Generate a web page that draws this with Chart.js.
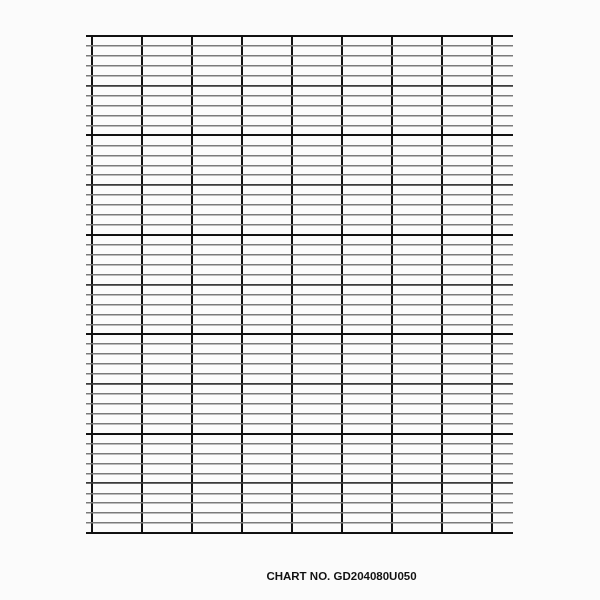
<!DOCTYPE html>
<html>
<head>
<meta charset="utf-8">
<script src="https://cdn.jsdelivr.net/npm/chart.js@4/dist/chart.umd.min.js"></script>
<style>
  html, body { margin: 0; padding: 0; background: #fbfbfb; }
  #wrap { width: 600px; height: 600px; }
</style>
</head>
<body>
<div id="wrap"><canvas id="c" width="600" height="600"></canvas></div>
<script>
// Chart paper: vertical time divisions and horizontal value divisions
const verticalDivisions = [0, 1, 2, 3, 4, 5, 6, 7, 8];
const horizontalDivisions = [];
for (let i = 0; i <= 50; i++) horizontalDivisions.push(i);
const majorEvery = 10;
const mediumEvery = 5;
const chartLabel = "CHART NO. GD204080U050";

const bgPlugin = {
  id: 'paper',
  beforeDraw(chart) {
    const ctx = chart.ctx;
    ctx.save();
    ctx.fillStyle = '#fbfbfb';
    ctx.fillRect(0, 0, chart.width, chart.height);
    ctx.restore();
  },
  afterDraw(chart) {
    const ctx = chart.ctx;
    ctx.save();
    ctx.fillStyle = '#111';
    ctx.font = 'bold 11.5px "Liberation Sans", Arial, sans-serif';
    ctx.textAlign = 'center';
    ctx.textBaseline = 'alphabetic';
    ctx.fillText(chartLabel, 341.5, 580);
    ctx.restore();
  }
};

new Chart(document.getElementById('c'), {
  type: 'scatter',
  data: { datasets: [] },
  plugins: [bgPlugin],
  options: {
    responsive: false,
    animation: false,
    devicePixelRatio: 1,
    layout: { padding: { left: 86, right: 87, top: 36, bottom: 67 } },
    plugins: { legend: { display: false }, tooltip: { enabled: false }, title: { display: false } },
    scales: {
      x: {
        type: 'linear',
        min: -0.12,
        max: 8.42,
        afterBuildTicks: (axis) => { axis.ticks = verticalDivisions.map(v => ({ value: v })); },
        ticks: { display: false },
        border: { display: false },
        grid: { drawTicks: false, color: '#111', lineWidth: 2 }
      },
      y: {
        type: 'linear',
        min: 0,
        max: 50,
        afterBuildTicks: (axis) => { axis.ticks = horizontalDivisions.map(v => ({ value: v })); },
        ticks: { display: false },
        border: { display: false },
        grid: {
          drawTicks: false,
          color: (ctx) => {
            const v = ctx.tick ? ctx.tick.value : 0;
            if (v % majorEvery === 0) return '#111';
            if (v % mediumEvery === 0) return '#3a3a3a';
            return '#7a7a7a';
          },
          lineWidth: (ctx) => {
            const v = ctx.tick ? ctx.tick.value : 0;
            if (v % majorEvery === 0) return 2;
            if (v % mediumEvery === 0) return 1.8;
            return 1.4;
          }
        }
      }
    }
  }
});
</script>
</body>
</html>
